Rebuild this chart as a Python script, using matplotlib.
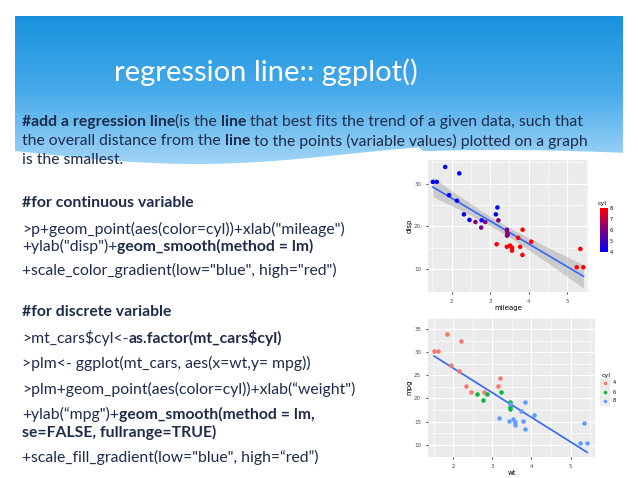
import numpy as np
import matplotlib.pyplot as plt
from matplotlib.path import Path
from matplotlib.patches import PathPatch
from matplotlib.colors import LinearSegmentedColormap

# mtcars data
wt = [2.620, 2.875, 2.320, 3.215, 3.440, 3.460, 3.570, 3.190, 3.150, 3.440, 3.440,
      4.070, 3.730, 3.780, 5.250, 5.424, 5.345, 2.200, 1.615, 1.835, 2.465, 3.520,
      3.435, 3.840, 3.845, 1.935, 2.140, 1.513, 3.170, 2.770, 3.570, 2.780]
mpg = [21.0, 21.0, 22.8, 21.4, 18.7, 18.1, 14.3, 24.4, 22.8, 19.2, 17.8, 16.4, 17.3,
       15.2, 10.4, 10.4, 14.7, 32.4, 30.4, 33.9, 21.5, 15.5, 15.2, 13.3, 19.2, 27.3,
       26.0, 30.4, 15.8, 19.7, 15.0, 21.4]
cyl = [6, 6, 4, 6, 8, 6, 8, 4, 4, 6, 6, 8, 8, 8, 8, 8, 8, 4, 4, 4, 4, 8, 8, 8, 8, 4,
       4, 4, 8, 6, 8, 4]
cyl_levels = [4, 6, 8]
cyl_colors = ['#F8766D', '#00BA38', '#619CFF']

title = 'regression line:: ggplot()'
# text lines: list of (y_px, [(text, bold), ...])
lines = [
    (122, [('#add a regression line', True), ('(is the ', False), ('line', True),
           (' that best fits the trend of a given data, such that', False)]),
    (141, [('the overall distance from the ', False), ('line', True),
           (' to the points (variable values) plotted on a graph', False)]),
    (160, [('is the smallest.', False)]),
    (203, [('#for continuous variable', True)]),
    (229, [('>p+geom_point(aes(color=cyl))+xlab("mileage")', False)]),
    (246, [('+ylab("disp")+', False), ('geom_smooth(method = lm)', True)]),
    (270, [('+scale_color_gradient(low="blue", high="red")', False)]),
    (312, [('#for discrete variable', True)]),
    (338, [('>mt_cars$cyl<-', False), ('as.factor(mt_cars$cyl)', True)]),
    (363, [('>plm<- ggplot(mt_cars, aes(x=wt,y= mpg))', False)]),
    (389, [('>plm+geom_point(aes(color=cyl))+xlab(\u201cweight")', False)]),
    (414, [('+ylab(\u201cmpg")+', False), ('geom_smooth(method = lm,', True)]),
    (432, [('se=FALSE, fullrange=TRUE)', True)]),
    (457, [('+scale_fill_gradient(low="blue", high=\u201cred\u201d)', False)]),
]

W, H = 638, 478
fig = plt.figure(figsize=(6.38, 4.78), dpi=100)
bg = fig.add_axes([0, 0, 1, 1])
bg.set_xlim(0, W)
bg.set_ylim(H, 0)
bg.axis('off')

# header banner with wavy bottom
xs = np.linspace(15, 623, 120)
ys = 154 + 10 * np.sin((xs - 15) / 608 * 2 * np.pi - 0.3) * np.where(xs < 420, 1, 0.4)
verts = [(15, 24), (15, 16), (23, 16), (615, 16), (623, 16), (623, 24)]
verts += list(zip(xs[::-1], ys[::-1]))
verts.append((15, 24))
clip = PathPatch(Path(verts), facecolor='none', edgecolor='none')
bg.add_patch(clip)
grad = np.linspace(0, 1, 200)[:, None]
cmap = LinearSegmentedColormap.from_list('hdr', ['#1590dc', '#45aaeb', '#a8d8f7'])
im = bg.imshow(grad, cmap=cmap, extent=[0, W, 170, 10], aspect='auto', zorder=0)
im.set_clip_path(clip)

bg.text(266, 72, title, color='white', fontsize=21, family='Lato',
        ha='center', va='center')

# mixed bold runs
text_color = '#1e2b4a'
renderer = fig.canvas.get_renderer()
for y, runs in lines:
    x = 22
    for s, b in runs:
        t = bg.text(x, y, s, fontsize=11.3, family='Lato', color=text_color,
                    fontweight='bold' if b else 'normal', va='center', ha='left')
        ext = t.get_window_extent(renderer)
        x += ext.width


def gg_axes(rect, xlim, ylim, yticks, xlabel, ylabel):
    ax = fig.add_axes(rect)
    ax.set_facecolor('#EBEBEB')
    ax.set_xlim(*xlim)
    ax.set_ylim(*ylim)
    ax.set_xticks([2, 3, 4, 5])
    ax.set_yticks(yticks)
    ax.set_xticks([1.5, 2.5, 3.5, 4.5, 5.5], minor=True)
    ax.set_yticks([v + (yticks[1] - yticks[0]) / 2 for v in yticks], minor=True)
    ax.grid(True, which='major', color='white', lw=0.8)
    ax.grid(True, which='minor', color='white', lw=0.4)
    ax.set_axisbelow(True)
    for sp in ax.spines.values():
        sp.set_visible(False)
    ax.tick_params(labelsize=4, colors='#4d4d4d', length=1.5, which='major')
    ax.tick_params(which='minor', length=0)
    ax.set_xlabel(xlabel, fontsize=5, labelpad=1)
    ax.set_ylabel(ylabel, fontsize=5, labelpad=1)
    return ax


x = np.array(wt)
y = np.array(mpg)
slope, icpt = np.polyfit(x, y, 1)
n = len(x)
resid = y - (slope * x + icpt)
s = np.sqrt(np.sum(resid ** 2) / (n - 2))
sxx = np.sum((x - x.mean()) ** 2)

# plot 1: continuous colour
ax1 = gg_axes([0.671, 0.389, 0.251, 0.276], (1.39, 5.55), (4.6, 35.5),
              [10, 20, 30], 'mileage', 'disp')
xx = np.linspace(x.min(), x.max(), 100)
fit = slope * xx + icpt
se = 2.04 * s * np.sqrt(1 / n + (xx - x.mean()) ** 2 / sxx)
ax1.fill_between(xx, fit - se, fit + se, color='#999999', alpha=0.4, lw=0)
ax1.plot(xx, fit, color='#3366FF', lw=1.2)
cm = LinearSegmentedColormap.from_list('br', ['blue', 'red'])
sc = ax1.scatter(x, y, c=cyl, cmap=cm, vmin=4, vmax=8, s=5, zorder=3)
cax = fig.add_axes([0.941, 0.473, 0.012, 0.092])
cb = fig.colorbar(sc, cax=cax, ticks=[4, 5, 6, 7, 8])
cb.outline.set_visible(False)
cb.ax.tick_params(labelsize=3.5, length=0, pad=1)
fig.text(0.937, 0.572, 'cyl', fontsize=4.5)

# plot 2: discrete colour
ax2 = gg_axes([0.671, 0.044, 0.262, 0.291], (1.36, 5.63), (7.3, 35.5),
              [10, 15, 20, 25, 30, 35], 'wt', 'mpg')
ends = np.array([x.min(), x.max()])
ax2.plot(ends, slope * ends + icpt, color='#3366FF', lw=1.2)
for lev, col in zip(cyl_levels, cyl_colors):
    m = np.array(cyl) == lev
    ax2.scatter(x[m], y[m], color=col, s=5, zorder=3)
fig.text(0.943, 0.212, 'cyl', fontsize=4.5)
for i, (lev, col) in enumerate(zip(cyl_levels, cyl_colors)):
    yy = 1 - (383 + 9 * i) / H
    fig.patches.append(plt.Rectangle((0.941, yy - 0.009), 0.014, 0.018,
                                     transform=fig.transFigure, color='#EBEBEB'))
    fig.add_artist(plt.Line2D([0.948], [yy], marker='o', ms=1.5, color=col,
                              transform=fig.transFigure))
    fig.text(0.96, yy, str(lev), fontsize=3.5, va='center')

fig.savefig('out.png', dpi=100)
